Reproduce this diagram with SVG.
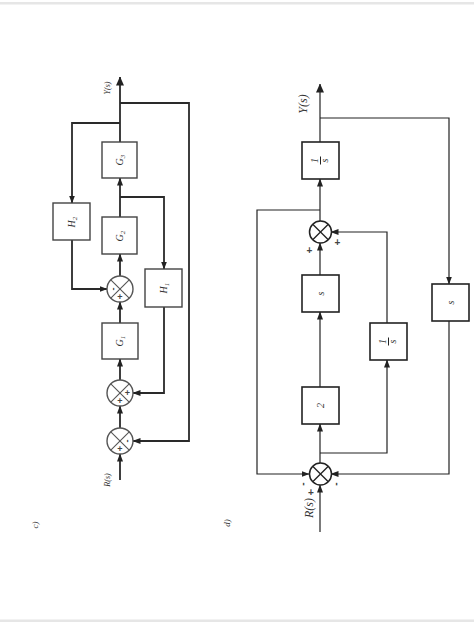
<svg xmlns="http://www.w3.org/2000/svg" width="474" height="624" viewBox="0 0 474 624">
<defs>
<marker id="ah" markerUnits="userSpaceOnUse" markerWidth="9" markerHeight="8" viewBox="0 0 9 8" refX="8.5" refY="4" orient="auto">
<path d="M0,0 L9,4 L0,8 Z" fill="#222"/>
</marker>
<marker id="ahs" markerUnits="userSpaceOnUse" markerWidth="8" markerHeight="6" viewBox="0 0 8 6" refX="7.5" refY="3" orient="auto">
<path d="M0,0 L8,3 L0,6 Z" fill="#222"/>
</marker>
</defs>
<style>
.c line,.c path{stroke:#2a2a2a;stroke-width:1.8;fill:none}
.d line,.d path{stroke:#222;stroke-width:1.2;fill:none}
.cbox{fill:#fff;stroke:#444;stroke-width:1.4}
.dbox{fill:#fff;stroke:#222;stroke-width:1.6}
.cj{fill:#fff;stroke:#555;stroke-width:1.4}
.dj{fill:#fff;stroke:#222;stroke-width:1.5}
.x{stroke:#555;stroke-width:1.1}
.xd{stroke:#222;stroke-width:1.3}
.lab{font-family:"Liberation Serif",serif;font-style:italic;fill:#333;text-anchor:middle}
.sg{font-family:"Liberation Sans",sans-serif;font-weight:bold;fill:#444;text-anchor:middle}
</style>
<rect x="0" y="0" width="474" height="624" fill="#fff"/>
<rect x="0" y="2" width="474" height="2.5" fill="#e6e6e6"/>
<rect x="0" y="619.5" width="474" height="2.5" fill="#e6e6e6"/>

<!-- ===== c) ===== -->
<g id="c-connectors" class="c">
<line x1="120" y1="480" x2="120" y2="454" marker-end="url(#ahs)"/>
<line x1="120" y1="428" x2="120" y2="406" marker-end="url(#ahs)"/>
<line x1="120" y1="380" x2="120" y2="359" marker-end="url(#ahs)"/>
<line x1="120" y1="323" x2="120" y2="302" marker-end="url(#ahs)"/>
<line x1="120" y1="276" x2="120" y2="254" marker-end="url(#ahs)"/>
<line x1="120" y1="217" x2="120" y2="178" marker-end="url(#ahs)"/>
<line x1="120" y1="142" x2="120" y2="77" marker-end="url(#ah)"/>
<path d="M120,103 H189 V441 H133" marker-end="url(#ahs)"/>
<path d="M120,123 H72 V203" marker-end="url(#ahs)"/>
<path d="M72,240 V289 H107" marker-end="url(#ahs)"/>
<path d="M120,197 H164 V269" marker-end="url(#ahs)"/>
<path d="M164,307 V393 H133" marker-end="url(#ahs)"/>
</g>
<g id="c-G3"><rect class="cbox" x="102" y="142" width="35" height="36"/><text class="lab" font-size="10" transform="rotate(-90 120 160)" x="120" y="163">G<tspan font-size="7" dy="2">3</tspan></text></g>
<g id="c-G2"><rect class="cbox" x="102" y="217" width="35" height="37"/><text class="lab" font-size="10" transform="rotate(-90 120 236)" x="120" y="239">G<tspan font-size="7" dy="2">2</tspan></text></g>
<g id="c-G1"><rect class="cbox" x="102" y="323" width="36" height="36"/><text class="lab" font-size="10" transform="rotate(-90 120 341)" x="120" y="344">G<tspan font-size="7" dy="2">1</tspan></text></g>
<g id="c-H2"><rect class="cbox" x="53" y="203" width="37" height="37"/><text class="lab" font-size="10" transform="rotate(-90 72 222)" x="72" y="225">H<tspan font-size="7" dy="2">2</tspan></text></g>
<g id="c-H1"><rect class="cbox" x="145" y="269" width="37" height="38"/><text class="lab" font-size="10" transform="rotate(-90 164 288)" x="164" y="291">H<tspan font-size="7" dy="2">1</tspan></text></g>
<g id="c-J1"><circle class="cj" cx="120" cy="289" r="13"/><line class="x" x1="110.8" y1="279.8" x2="129.2" y2="298.2"/><line class="x" x1="129.2" y1="279.8" x2="110.8" y2="298.2"/>
<text class="sg" font-size="9" transform="rotate(-90 113 289)" x="113" y="292">-</text><text class="sg" font-size="9" x="120" y="299.5">+</text></g>
<g id="c-J2"><circle class="cj" cx="120" cy="393" r="13"/><line class="x" x1="110.8" y1="383.8" x2="129.2" y2="402.2"/><line class="x" x1="129.2" y1="383.8" x2="110.8" y2="402.2"/>
<text class="sg" font-size="9" x="127.5" y="396">+</text><text class="sg" font-size="9" x="120" y="403.5">+</text></g>
<g id="c-J3"><circle class="cj" cx="120" cy="441" r="13"/><line class="x" x1="110.8" y1="431.8" x2="129.2" y2="450.2"/><line class="x" x1="129.2" y1="431.8" x2="110.8" y2="450.2"/>
<text class="sg" font-size="9" transform="rotate(-90 127 441)" x="127" y="444">-</text><text class="sg" font-size="9" x="120" y="451.5">+</text></g>
<text class="lab" font-size="8" transform="rotate(-90 107 88)" x="107" y="91">Y(s)</text>
<text class="lab" font-size="8" transform="rotate(-90 107 480)" x="107" y="483">R(s)</text>
<text class="lab" font-size="9" font-style="normal" transform="rotate(-90 35 525)" x="35" y="528">c)</text>

<!-- ===== d) ===== -->
<g id="d-connectors" class="d">
<line x1="320" y1="532" x2="320" y2="485" marker-end="url(#ahs)"/>
<line x1="320" y1="463" x2="320" y2="424" marker-end="url(#ahs)"/>
<path d="M320,453 H387 V360" marker-end="url(#ahs)"/>
<line x1="320" y1="387" x2="320" y2="312" marker-end="url(#ahs)"/>
<line x1="320" y1="275" x2="320" y2="243" marker-end="url(#ahs)"/>
<path d="M387,323 V232 H331" marker-end="url(#ahs)"/>
<line x1="320" y1="221" x2="320" y2="179" marker-end="url(#ahs)"/>
<path d="M320,210 H257 V474 H309" marker-end="url(#ahs)"/>
<line x1="320" y1="142" x2="320" y2="84" marker-end="url(#ah)"/>
<path d="M320,118 H449 V284" marker-end="url(#ahs)"/>
<path d="M449,321 V474 H331" marker-end="url(#ahs)"/>
</g>
<g id="d-int1"><rect class="dbox" x="302" y="142" width="37" height="37"/>
<g transform="rotate(-90 320.5 160.5)"><text class="lab" font-style="normal" font-size="10" x="320.5" y="158">1</text><line x1="316.5" y1="160.5" x2="324.5" y2="160.5" stroke="#222" stroke-width="1"/><text class="lab" font-size="10" x="320.5" y="168">s</text></g></g>
<g id="d-s1"><rect class="dbox" x="302" y="275" width="37" height="37"/><text class="lab" font-size="10" transform="rotate(-90 320.5 293.5)" x="320.5" y="296.5">s</text></g>
<g id="d-two"><rect class="dbox" x="302" y="387" width="37" height="37"/><text class="lab" font-style="normal" font-size="10" transform="rotate(-90 320.5 405.5)" x="320.5" y="409">2</text></g>
<g id="d-int2"><rect class="dbox" x="370" y="323" width="37" height="37"/>
<g transform="rotate(-90 388.5 341.5)"><text class="lab" font-style="normal" font-size="10" x="388.5" y="339">1</text><line x1="384.5" y1="341.5" x2="392.5" y2="341.5" stroke="#222" stroke-width="1"/><text class="lab" font-size="10" x="388.5" y="349">s</text></g></g>
<g id="d-s2"><rect class="dbox" x="432" y="284" width="37" height="37"/><text class="lab" font-size="10" transform="rotate(-90 450.5 302.5)" x="450.5" y="305.5">s</text></g>
<g id="d-Jtop"><circle class="dj" cx="320.5" cy="232" r="11"/><line class="xd" x1="312.7" y1="224.2" x2="328.3" y2="239.8"/><line class="xd" x1="328.3" y1="224.2" x2="312.7" y2="239.8"/>
<text class="sg" font-size="10" x="309.5" y="254">+</text><text class="sg" font-size="10" x="337.5" y="246">+</text></g>
<g id="d-Jbot"><circle class="dj" cx="320.5" cy="474" r="11"/><line class="xd" x1="312.7" y1="466.2" x2="328.3" y2="481.8"/><line class="xd" x1="328.3" y1="466.2" x2="312.7" y2="481.8"/>
<text class="sg" font-size="10" transform="rotate(-90 302 484)" x="302" y="487.5">-</text><text class="sg" font-size="10" transform="rotate(-90 335 484)" x="335" y="487.5">-</text><text class="sg" font-size="10" x="311" y="496">+</text></g>
<text class="lab" font-size="12" transform="rotate(-90 303 104)" x="303" y="108">Y(s)</text>
<text class="lab" font-size="12" transform="rotate(-90 309 508)" x="309" y="512">R(s)</text>
<text class="lab" font-size="9" font-style="normal" transform="rotate(-90 227 523)" x="227" y="526">d)</text>
</svg>
